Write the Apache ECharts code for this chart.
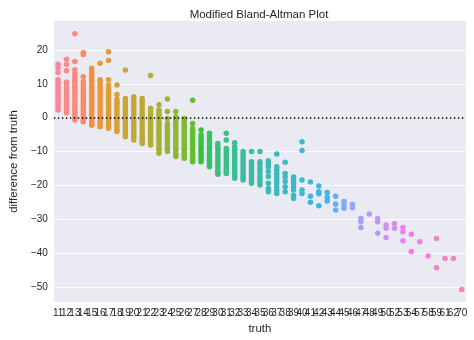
<!DOCTYPE html>
<html>
<head>
<meta charset="utf-8">
<script src="https://cdn.jsdelivr.net/npm/echarts@6/dist/echarts.min.js"></script>
<style>
  html, body { margin: 0; padding: 0; background: #fff; }
  #chart { width: 474px; height: 340px; }
</style>
</head>
<body>
<div id="chart"></div>
<script>
// categories on the x axis (true value)
var truth = ["11","12","13","14","15","16","17","18","19","20",
  "21","22","23","24","25","26","27","28","29","30",
  "31","32","33","34","35","36","37","38","39","40",
  "41","42","43","44","45","46","47","48","49","50",
  "52","53","54","57","58","59","61","62","70"];

// difference from truth, one list per category
var diffByTruth = [
  [15.8, 14.8, 13.4, 11.2, 10.5, 9.8, 9, 8.3, 7.5, 6.8, 6, 5.3, 4.5, 3.8, 3, 2.3],
  [17.3, 15.8, 13.9, 10.5, 9.8, 9, 8.2, 7.5, 6.7, 6, 5.2, 4.5, 3.7, 3, 2.2, 1.5],
  [24.8, 16.6, 14.2, 13.1, 12.3, 11.5, 10.8, 10, 9.2, 8.5, 7.7, 7, 6.2, 5.4, 4.7, 3.9, 3.2, 2.4, 1.6, 0.9, 0.1, -0.7],
  [19.3, 18.7, 12.1, 10.7, 10, 9.2, 8.5, 7.7, 7, 6.2, 5.5, 4.7, 4, 3.2, 2.5, 1.7, 1, 0.2, -0.5, -1.2],
  [14.6, 13.6, 12.6, 11.7, 10.9, 10.1, 9.3, 8.5, 7.7, 6.9, 6.1, 5.3, 4.5, 3.7, 2.9, 2.1, 1.3, 0.5, -0.3, -1.1, -1.8, -2.2],
  [16.1, 11.2, 10.5, 9.7, 8.9, 8.1, 7.3, 6.5, 5.7, 4.9, 4.1, 3.3, 2.5, 1.7, 0.9, 0.1, -0.7, -1.5, -2.2, -2.7],
  [19.5, 16.9, 11.2, 9.7, 8.7, 7.9, 7.1, 6.3, 5.5, 4.7, 3.9, 3.1, 2.3, 1.5, 0.7, -0.1, -0.9, -1.7, -2.4, -3.1],
  [9.7, 6.9, 5.4, 4.6, 3.8, 3, 2.2, 1.4, 0.6, -0.2, -1, -1.8, -2.6, -3.4, -4.1],
  [14.1, 5.7, 4.9, 4.1, 3.3, 2.5, 1.7, 0.9, 0.1, -0.7, -1.5, -2.3, -3.1, -3.9, -4.7, -5.6],
  [6.2, 5.4, 4.6, 3.8, 3, 2.2, 1.4, 0.6, -0.2, -1, -1.8, -2.6, -3.4, -4.2, -5, -5.8, -6.6],
  [5.7, 4.9, 4.1, 3.3, 2.5, 1.7, 0.9, 0.1, -0.7, -1.5, -2.3, -3.1, -3.9, -4.7, -5.5, -6.3, -7, -7.6],
  [12.5, 2.8, 1.8, 1, 0.2, -0.6, -1.4, -2.2, -3, -3.8, -4.6, -5.4, -6.2, -7, -7.6, -8.1],
  [3.8, 2.3, 1.5, 0.7, -0.1, -0.9, -1.7, -2.5, -3.3, -4.1, -4.9, -5.7, -6.5, -7.3, -8.1, -8.9, -9.7, -10.5],
  [5.5, 1.8, -0.2, -1.7, -2.5, -3.3, -4.1, -4.9, -5.7, -6.5, -7.3, -8.1, -8.9, -9.5, -10],
  [1.8, 0.3, -0.5, -1.3, -2.1, -2.9, -3.7, -4.5, -5.3, -6.1, -6.9, -7.7, -8.5, -9.3, -10.1, -10.8, -11.5],
  [-0.2, -1, -1.8, -2.6, -3.4, -4.2, -5, -5.8, -6.6, -7.4, -8.2, -9, -9.8, -10.6, -11.3, -12],
  [5.2, -1.7, -3.2, -4, -4.8, -5.6, -6.4, -7.2, -8, -8.8, -9.6, -10.4, -11.2, -12, -12.5, -13],
  [-3.6, -5.1, -5.9, -6.7, -7.5, -8.3, -9.1, -9.9, -10.7, -11.5, -12.3, -13],
  [-4.6, -5.4, -6.2, -7, -7.8, -8.6, -9.4, -10.2, -11, -11.8, -12.6, -13.4, -14, -14.5],
  [-7.6, -8.4, -9.2, -10, -10.8, -11.6, -12.4, -13.2, -14, -14.8, -15.6, -16.2, -16.7],
  [-4.6, -6.6, -9.1, -9.9, -10.7, -11.5, -12.3, -13.1, -13.9, -14.7, -15.5, -16, -16.5],
  [-7.4, -8.6, -9.4, -10.2, -11, -11.8, -12.6, -13.4, -14.2, -15, -15.8, -16.6, -17.3, -17.9],
  [-10, -10.8, -11.6, -12.4, -13.2, -14, -14.8, -15.6, -16.4, -17.2, -17.8, -18.4],
  [-10, -13, -13.8, -14.6, -15.4, -16.2, -17, -17.8, -18.6, -19.4],
  [-10, -13, -13.8, -14.8, -15.6, -16.5, -17.5, -18.5, -19.2, -19.9],
  [-12.7, -13.5, -14.5, -15.9, -17.4, -19.4, -20.9, -21.9],
  [-10.7, -14.5, -15.5, -16.5, -17.5, -18.5, -19.5, -20.5, -21.5, -22.4],
  [-13.2, -16.5, -17.5, -18.9, -20.4, -21.9],
  [-17.5, -18.4, -19.4, -20.4, -21.4, -22.9, -23.9],
  [-7.1, -9.7, -18.4, -21.4, -22.4],
  [-19, -23.2, -25],
  [-20.2, -21.9, -22.5, -26],
  [-22.1, -23.6, -24.6],
  [-23.2, -25.5, -27.3],
  [-24.8, -25.8, -26.8],
  [-25.6, -26.6],
  [-29.8, -30.8, -32.5],
  [-28.5],
  [-29.8, -30.8, -34.2],
  [-31.7, -32.7, -35.4],
  [-31.3, -32.7],
  [-32.5, -33.7, -36.4],
  [-34.5, -39.6],
  [-36.7],
  [-40.9],
  [-35.7, -44.4],
  [-41.6],
  [-41.6],
  [-50.8]
];

var yTicks = [-50, -40, -30, -20, -10, 0, 10, 20];

// seaborn-style husl palette (h=.01, s=.9, l=.7)
function huslPalette(n) {
  var m = [[3.2406, -1.5372, -0.4986], [-0.9689, 1.8758, 0.0415], [0.0557, -0.2040, 1.0570]];
  var refU = 0.19784, refV = 0.46834, labE = 0.008856, labK = 903.3;
  function maxChroma(L, H) {
    var hr = H * Math.PI / 180, sinH = Math.sin(hr), cosH = Math.cos(hr);
    var sub1 = Math.pow(L + 16, 3) / 1560896.0;
    var sub2 = sub1 > labE ? sub1 : L / labK;
    var result = Infinity;
    m.forEach(function (row) {
      var top = (0.99915 * row[0] + 1.05122 * row[1] + 1.14460 * row[2]) * sub2;
      var rb = 0.86330 * row[2] - 0.17266 * row[1];
      var lb = 0.12949 * row[2] - 0.38848 * row[0];
      var bottom = (rb * sinH + lb * cosH) * sub2;
      [0, 1].forEach(function (t) {
        var C = L * (top - 1.05122 * t) / (bottom + 0.17266 * sinH * t);
        if (C > 0 && C < result) result = C;
      });
    });
    return result;
  }
  function toRgb(H, S, L) {
    var C = maxChroma(L, H) / 100 * S;
    var U = Math.cos(H * Math.PI / 180) * C, V = Math.sin(H * Math.PI / 180) * C;
    var t = (L + 16) / 116;
    var Y = Math.pow(t, 3) > labE ? Math.pow(t, 3) : (116 * t - 16) / labK;
    var vu = U / (13 * L) + refU, vv = V / (13 * L) + refV;
    var X = -(9 * Y * vu) / ((vu - 4) * vv - vu * vv);
    var Z = (9 * Y - 15 * vv * Y - vv * X) / (3 * vv);
    return m.map(function (row) {
      var c = row[0] * X + row[1] * Y + row[2] * Z;
      c = c <= 0.0031308 ? 12.92 * c : 1.055 * Math.pow(c, 1 / 2.4) - 0.055;
      return Math.round(Math.min(1, Math.max(0, c)) * 255);
    });
  }
  var out = [];
  for (var i = 0; i < n; i++) {
    var h = ((i / n + 0.01) % 1) * 359;
    var rgb = toRgb(h, 0.9 * 99, 0.7 * 99);
    out.push("rgb(" + rgb.join(",") + ")");
  }
  return out;
}

var colors = huslPalette(truth.length);
var textColor = "#262626";
var font = "Liberation Sans, Arial, sans-serif";

var series = truth.map(function (t, i) {
  return {
    type: "scatter",
    symbolSize: 5.5,
    itemStyle: { color: colors[i], opacity: 1 },
    data: diffByTruth[i].map(function (v) { return [t, v]; }),
    z: 2
  };
});

// dotted zero line, drawn above the points
series.push({
  type: "scatter",
  data: [],
  z: 5,
  markLine: {
    silent: true,
    symbol: ["none", "none"],
    label: { show: false },
    lineStyle: { color: "#000", width: 1.5, type: [1.5, 2.5], opacity: 1 },
    data: [{ yAxis: 0 }],
    animation: false
  }
});

var chart = echarts.init(document.getElementById("chart"));
chart.setOption({
  animation: false,
  backgroundColor: "#fff",
  title: {
    text: "Modified Bland-Altman Plot",
    left: 254, top: 4, textAlign: "center",
    textStyle: { fontFamily: font, fontSize: 11.5, fontWeight: "normal", color: textColor }
  },
  grid: {
    left: 42, right: 8, top: 21, bottom: 38,
    show: true, backgroundColor: "#EAEAF2", borderWidth: 0
  },
  xAxis: {
    type: "category",
    data: truth,
    name: "truth",
    nameLocation: "middle",
    nameGap: 20,
    nameTextStyle: { fontFamily: font, fontSize: 11.5, color: textColor },
    axisLine: { show: false },
    axisTick: { show: false },
    splitLine: { show: false },
    axisLabel: { interval: 0, margin: 6, fontFamily: font, fontSize: 10, color: textColor }
  },
  yAxis: {
    type: "value",
    min: -54.5,
    max: 28.6,
    splitNumber: 8,
    name: "difference from truth",
    nameLocation: "middle",
    nameGap: 26,
    nameTextStyle: { fontFamily: font, fontSize: 11.5, color: textColor },
    axisLine: { show: false },
    axisTick: { show: false },
    splitLine: { show: true, showMinLine: false, showMaxLine: false, lineStyle: { color: "#fff", width: 1 } },
    axisLabel: {
      margin: 6, fontFamily: font, fontSize: 10, color: textColor,
      showMinLabel: false, showMaxLabel: false,
      formatter: function (v) {
        if (yTicks.indexOf(v) < 0) return "";
        return String(v).replace("-", "\u2212");
      }
    }
  },
  series: series
});
</script>
</body>
</html>
